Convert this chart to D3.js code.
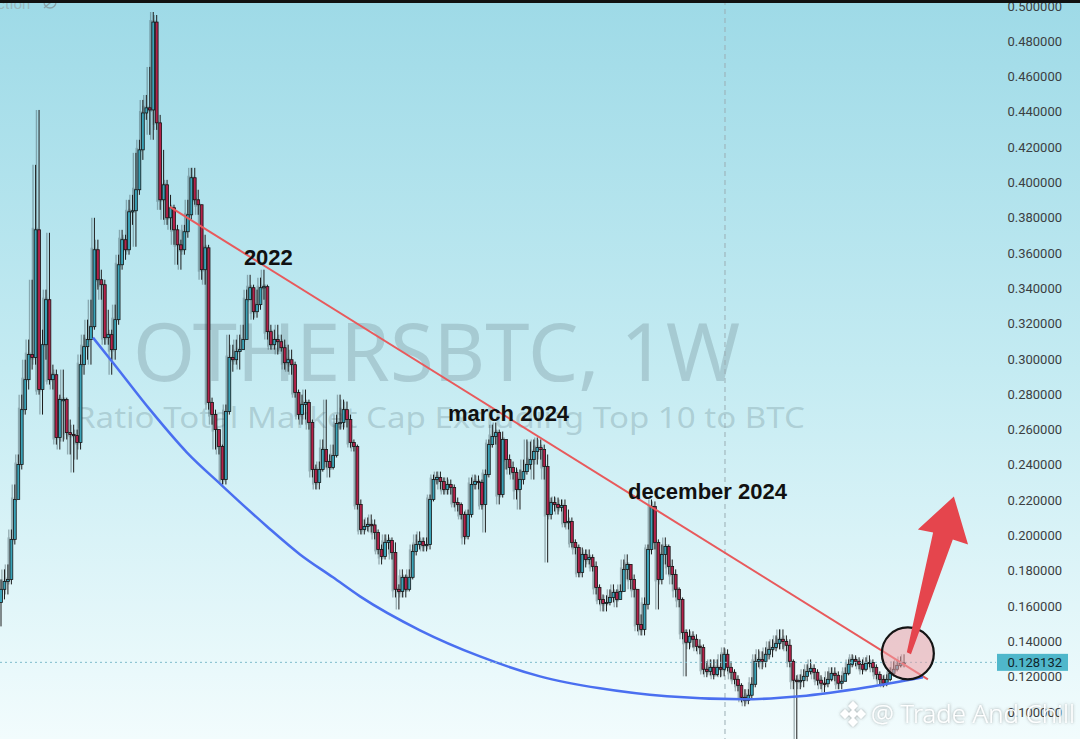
<!DOCTYPE html>
<html><head><meta charset="utf-8">
<script src="https://cdn.jsdelivr.net/npm/d3@7"></script>
<style>html,body{margin:0;padding:0;overflow:hidden;background:#fff}svg{display:block}</style>
</head><body><svg id="c" width="1080" height="739"></svg>
<script>
// ---------- DATA (weekly OTHERS/BTC candles) ----------
const firstOpen = 0.1621;
const close = [
0.1695,0.1740,0.1751,0.1978,0.2204,0.2402,0.2713,0.2883,0.3025,0.3008,
0.3732,0.2827,0.3081,0.3336,0.2883,0.2911,0.2555,0.2770,0.2770,0.2583,
0.2572,0.2566,0.2527,0.2968,0.3070,0.3110,0.3183,0.3619,0.3449,0.3421,
0.3121,0.3138,0.3053,0.3223,0.3534,0.3676,0.3619,0.3834,0.3840,0.3959,
0.4185,0.4394,0.4423,0.4411,0.4909,0.4338,0.3902,0.3987,0.3800,0.3857,
0.3732,0.3647,0.3619,0.3721,0.3817,0.4027,0.3902,0.3874,0.3506,0.3630,
0.2753,0.2685,0.2600,0.2504,0.2317,0.2702,0.3008,0.2996,0.3042,0.3053,
0.3110,0.3336,0.3404,0.3268,0.3308,0.3404,0.3410,0.3155,0.3081,0.3110,
0.3098,0.3064,0.2979,0.2996,0.2968,0.2810,0.2685,0.2742,0.2753,0.2640,
0.2374,0.2300,0.2374,0.2487,0.2419,0.2385,0.2453,0.2634,0.2640,0.2713,
0.2657,0.2527,0.2504,0.2176,0.2034,0.2051,0.2062,0.2060,0.2017,0.1921,
0.1881,0.1961,0.1972,0.1904,0.1695,0.1683,0.1763,0.1695,0.1763,0.1910,
0.1949,0.1966,0.1944,0.1949,0.2204,0.2317,0.2329,0.2306,0.2261,0.2289,
0.2272,0.2187,0.2176,0.2119,0.1995,0.2119,0.2289,0.2306,0.2300,0.2176,
0.2345,0.2515,0.2561,0.2583,0.2232,0.2544,0.2430,0.2385,0.2357,0.2261,
0.2317,0.2362,0.2402,0.2430,0.2476,0.2498,0.2487,0.2391,0.2119,0.2187,
0.2176,0.2159,0.2170,0.2074,0.2079,0.1961,0.1932,0.1791,0.1893,0.1864,
0.1876,0.1825,0.1706,0.1638,0.1615,0.1621,0.1649,0.1678,0.1638,0.1683,
0.1808,0.1836,0.1751,0.1695,0.1496,0.1468,0.1610,0.1921,0.2164,0.1961,
0.1751,0.1893,0.1938,0.1825,0.1779,0.1695,0.1638,0.1451,0.1395,0.1429,
0.1412,0.1372,0.1366,0.1242,0.1230,0.1253,0.1213,0.1253,0.1242,0.1327,
0.1253,0.1225,0.1185,0.1151,0.1083,0.1066,0.1095,0.1157,0.1287,0.1298,
0.1287,0.1327,0.1355,0.1366,0.1389,0.1412,0.1400,0.1378,0.1287,0.1180,
0.1174,0.1178,0.1202,0.1230,0.1247,0.1225,0.1180,0.1163,0.1160,0.1185,
0.1219,0.1208,0.1163,0.1174,0.1219,0.1270,0.1298,0.1287,0.1270,0.1242,
0.1276,0.1281,0.1253,0.1213,0.1185,0.1163,0.1185,0.1219,0.1242,0.1264,
0.1276,0.1281];
const high = [
0.1751,0.1808,0.1836,0.2034,0.2289,0.2459,0.2798,0.2996,0.3110,0.3449,
0.4100,0.4411,0.3166,0.3393,0.3715,0.2968,0.2940,0.2798,0.2940,0.2781,
0.2657,0.2628,0.2600,0.3025,0.3138,0.3223,0.3336,0.3800,0.3676,0.3506,
0.3449,0.3279,0.3166,0.3308,0.3591,0.3732,0.3704,0.3902,0.3930,0.4168,
0.4242,0.4468,0.4496,0.4655,0.4966,0.4949,0.4383,0.4185,0.4015,0.3930,
0.3874,0.3760,0.3676,0.3760,0.3902,0.4083,0.4083,0.3959,0.3874,0.3704,
0.3647,0.2781,0.2713,0.2600,0.2515,0.2742,0.3138,0.3081,0.3110,0.3138,
0.3194,0.3393,0.3477,0.3421,0.3393,0.3461,0.3506,0.3421,0.3194,0.3166,
0.3194,0.3138,0.3110,0.3081,0.3053,0.2985,0.2827,0.2798,0.2827,0.2770,
0.2657,0.2402,0.2419,0.2544,0.2770,0.2459,0.2515,0.2685,0.2798,0.2770,
0.2759,0.2685,0.2544,0.2515,0.2204,0.2091,0.2102,0.2119,0.2091,0.2034,
0.1949,0.2006,0.2006,0.1989,0.1961,0.1723,0.1808,0.1779,0.1808,0.1949,
0.2006,0.2023,0.1989,0.1989,0.2232,0.2345,0.2362,0.2362,0.2329,0.2329,
0.2317,0.2289,0.2215,0.2187,0.2136,0.2147,0.2329,0.2345,0.2340,0.2317,
0.2374,0.2544,0.2628,0.2640,0.2600,0.2589,0.2515,0.2459,0.2419,0.2385,
0.2374,0.2430,0.2544,0.2532,0.2544,0.2555,0.2544,0.2515,0.2459,0.2215,
0.2221,0.2215,0.2204,0.2204,0.2147,0.2102,0.1978,0.1949,0.1932,0.1921,
0.1921,0.1893,0.1853,0.1723,0.1666,0.1661,0.1695,0.1723,0.1695,0.1723,
0.1864,0.1893,0.1836,0.1779,0.1695,0.1553,0.1649,0.1949,0.2204,0.2193,
0.1978,0.1949,0.1989,0.1949,0.1864,0.1808,0.1706,0.1649,0.1468,0.1468,
0.1457,0.1440,0.1412,0.1383,0.1287,0.1298,0.1298,0.1298,0.1327,0.1366,
0.1355,0.1287,0.1242,0.1208,0.1163,0.1129,0.1129,0.1197,0.1327,0.1355,
0.1344,0.1366,0.1400,0.1412,0.1434,0.1468,0.1468,0.1434,0.1412,0.1298,
0.1208,0.1213,0.1242,0.1270,0.1298,0.1270,0.1242,0.1208,0.1197,0.1230,
0.1253,0.1253,0.1230,0.1208,0.1253,0.1298,0.1327,0.1321,0.1310,0.1298,
0.1310,0.1321,0.1298,0.1270,0.1230,0.1208,0.1213,0.1253,0.1287,0.1298,
0.1315,0.1327];
const low = [
0.1485,0.1638,0.1666,0.1723,0.1949,0.2232,0.2374,0.2685,0.2827,0.2940,
0.2968,0.2798,0.2685,0.2996,0.2855,0.2827,0.2515,0.2487,0.2532,0.2544,
0.2459,0.2357,0.2430,0.2487,0.2911,0.2996,0.2968,0.3166,0.3393,0.3336,
0.3081,0.3081,0.2911,0.2996,0.3194,0.3506,0.3562,0.3591,0.3760,0.3636,
0.3930,0.4128,0.4355,0.4270,0.4242,0.4298,0.3845,0.3789,0.3760,0.3732,
0.3647,0.3534,0.3506,0.3591,0.3687,0.3789,0.3874,0.3817,0.3449,0.3421,
0.2713,0.2628,0.2487,0.2459,0.2289,0.2289,0.2685,0.2928,0.2968,0.2940,
0.3053,0.3166,0.3336,0.3223,0.3234,0.3279,0.3336,0.3110,0.3053,0.3053,
0.3025,0.3042,0.2940,0.2928,0.2911,0.2781,0.2657,0.2628,0.2657,0.2600,
0.2329,0.2261,0.2261,0.2362,0.2385,0.2329,0.2374,0.2442,0.2600,0.2600,
0.2612,0.2498,0.2476,0.2147,0.2006,0.2006,0.2023,0.2017,0.1978,0.1893,
0.1836,0.1864,0.1921,0.1864,0.1649,0.1581,0.1649,0.1649,0.1683,0.1751,
0.1887,0.1921,0.1910,0.1910,0.1921,0.2193,0.2289,0.2261,0.2232,0.2232,
0.2232,0.2159,0.2136,0.2091,0.1949,0.1978,0.2102,0.2261,0.2261,0.2147,
0.2017,0.2329,0.2498,0.2515,0.2176,0.2215,0.2374,0.2345,0.2317,0.2204,
0.2147,0.2289,0.2345,0.2374,0.2317,0.2402,0.2430,0.2317,0.1847,0.2091,
0.2136,0.2119,0.2136,0.2046,0.2034,0.1932,0.1893,0.1763,0.1763,0.1819,
0.1836,0.1796,0.1666,0.1610,0.1570,0.1570,0.1604,0.1621,0.1593,0.1638,
0.1695,0.1751,0.1695,0.1649,0.1457,0.1434,0.1434,0.1581,0.1893,0.1921,
0.1581,0.1723,0.1836,0.1779,0.1723,0.1649,0.1593,0.1412,0.1202,0.1355,
0.1366,0.1344,0.1327,0.1213,0.1197,0.1208,0.1185,0.1202,0.1197,0.1202,
0.1230,0.1185,0.1157,0.1117,0.1055,0.1032,0.1044,0.1072,0.1140,0.1253,
0.1242,0.1253,0.1298,0.1310,0.1344,0.1355,0.1355,0.1344,0.1253,0.1129,
0.0732,0.1129,0.1140,0.1174,0.1213,0.1185,0.1151,0.1129,0.1112,0.1140,
0.1174,0.1174,0.1129,0.1129,0.1174,0.1208,0.1253,0.1259,0.1242,0.1213,
0.1230,0.1253,0.1225,0.1185,0.1157,0.1140,0.1146,0.1174,0.1202,0.1230,
0.1253,0.1253];
const yTicks = [0.50,0.48,0.46,0.44,0.42,0.40,0.38,0.36,0.34,0.32,0.30,0.28,0.26,0.24,0.22,0.20,0.18,0.16,0.14,0.12,0.10];
const lastPrice = 0.128132;
const dividerWeek = 209.25;
// trendlines (week index, price)
const resistanceLine = [[48.8,0.3862],[267.9,0.1185]];
const supportCurve = [[26.59,0.3121],[32.37,0.2979],[43.06,0.2713],[53.76,0.2470],[63.87,0.2283],[76.88,0.2051],[86.42,0.1893],[95.95,0.1763],[103.76,0.1655],[121.10,0.1463],[138.44,0.1315],[155.78,0.1202],[173.12,0.1134],[192.49,0.1089],[214.45,0.1072],[230.93,0.1089],[250.29,0.1140],[266.48,0.1197]];
const labels = [
  {text:"2022", w:70.2, p:0.3534},
  {text:"march 2024", w:129.2, p:0.2651},
  {text:"december 2024", w:181.2, p:0.2204}
];
const breakoutCircle = {w:262.1, p:0.1332};
const arrowShape = [[261.8,0.1338],[269.4,0.2017],[265.0,0.2034],[275.4,0.2221],[279.5,0.1949],[275.1,0.1978],[263.0,0.1327]];

// ---------- CHART ----------
const W = 1080, H = 739;
const svg = d3.select("#c");
const defs = svg.append("defs");
const g0 = defs.append("linearGradient").attr("id","bg").attr("x1",0).attr("y1",0).attr("x2",0).attr("y2",1);
g0.append("stop").attr("offset","0%").attr("stop-color","#9edae7");
g0.append("stop").attr("offset","50%").attr("stop-color","#c4ebf2");
g0.append("stop").attr("offset","100%").attr("stop-color","#f2fcfd");
defs.append("clipPath").attr("id","plot").append("rect").attr("x",0).attr("y",3).attr("width",996).attr("height",H-3);
const sh = defs.append("filter").attr("id","shadow").attr("x","-20%").attr("y","-40%").attr("width","140%").attr("height","180%");
sh.append("feDropShadow").attr("dx",0).attr("dy",0).attr("stdDeviation",1.6).attr("flood-color","#555").attr("flood-opacity",0.6);

svg.append("rect").attr("width",W).attr("height",H).attr("fill","url(#bg)");

const x = d3.scaleLinear().domain([0,287]).range([1,994]);
const y = d3.scaleLinear().domain([0.1,0.5]).range([712,6]);

// watermark titles
svg.append("text").attr("x",133).attr("y",381).attr("textLength",607).attr("lengthAdjust","spacingAndGlyphs")
  .attr("font-family","Noto Sans, Open Sans, sans-serif").attr("font-size",80).attr("fill","#6f8d96").attr("fill-opacity",0.33)
  .text("OTHERSBTC, 1W");
svg.append("text").attr("x",75).attr("y",428).attr("textLength",730).attr("lengthAdjust","spacingAndGlyphs")
  .attr("font-family","Noto Sans, Open Sans, sans-serif").attr("font-size",29).attr("fill","#6f8d96").attr("fill-opacity",0.33)
  .text("Ratio Total Market Cap Excluding Top 10 to BTC");

// top-left cropped header
svg.append("text").attr("x",-3).attr("y",9).attr("font-family","Roboto, sans-serif").attr("font-size",15).attr("fill","#9ab7be").text("ction");
svg.append("circle").attr("cx",50).attr("cy",2).attr("r",6).attr("fill","none").attr("stroke","#8aa3aa").attr("stroke-width",1.3);
svg.append("line").attr("x1",44).attr("y1",8).attr("x2",57).attr("y2",-3).attr("stroke","#8aa3aa").attr("stroke-width",1.3);

const plot = svg.append("g").attr("clip-path","url(#plot)");

// divider & price line
plot.append("line").attr("x1",x(dividerWeek)).attr("x2",x(dividerWeek)).attr("y1",0).attr("y2",H)
  .attr("stroke","#9aaeb3").attr("stroke-width",1).attr("stroke-dasharray","5,4");
svg.append("line").attr("x1",0).attr("x2",996).attr("y1",y(lastPrice)).attr("y2",y(lastPrice))
  .attr("stroke","#7fbccb").attr("stroke-width",1).attr("stroke-dasharray","2,3");

// candles
const candles = close.map((c,i)=>({i, o: i===0?firstOpen:close[i-1], c, h: high[i], l: low[i]}));
const ghost = plot.append("g").attr("opacity",0.42);
ghost.selectAll("line").data(candles).join("line")
  .attr("x1",d=>x(d.i)-2.6).attr("x2",d=>x(d.i)-2.6)
  .attr("y1",d=>y(d.h)).attr("y2",d=>y(d.l)).attr("stroke","#40545b").attr("stroke-width",1.4);
ghost.selectAll("rect").data(candles).join("rect")
  .attr("x",d=>x(d.i)-3.9).attr("width",2.6)
  .attr("y",d=>y(Math.max(d.o,d.c))-2).attr("height",d=>Math.abs(y(d.o)-y(d.c))+4)
  .attr("fill","#3c5158");

const cg = plot.append("g");
cg.selectAll("line").data(candles).join("line")
  .attr("x1",d=>x(d.i)).attr("x2",d=>x(d.i))
  .attr("y1",d=>y(d.h)).attr("y2",d=>y(d.l)).attr("stroke","#1c1c1c").attr("stroke-width",1);
cg.selectAll("rect").data(candles).join("rect")
  .attr("x",d=>x(d.i)-1.4).attr("width",2.8)
  .attr("y",d=>y(Math.max(d.o,d.c))).attr("height",d=>Math.max(1.2,Math.abs(y(d.o)-y(d.c))))
  .attr("fill",d=>d.c>=d.o?"#3aa3b8":"#b3224a").attr("stroke","#151515").attr("stroke-width",0.8);

// trendlines
plot.append("path").datum(resistanceLine).attr("d",d3.line().x(d=>x(d[0])).y(d=>y(d[1])))
  .attr("fill","none").attr("stroke","#e85a5c").attr("stroke-width",2);
plot.append("path").datum(supportCurve).attr("d",d3.line().x(d=>x(d[0])).y(d=>y(d[1])).curve(d3.curveMonotoneX))
  .attr("fill","none").attr("stroke","#4a6ff0").attr("stroke-width",2.5);

// labels
svg.selectAll("text.lab").data(labels).join("text").attr("class","lab")
  .attr("x",d=>x(d.w)).attr("y",d=>y(d.p)).attr("font-family","Liberation Sans, Arial, sans-serif")
  .attr("font-weight","bold").attr("font-size",22).attr("fill","#111").text(d=>d.text);

// breakout circle & arrow
svg.append("circle").attr("cx",x(breakoutCircle.w)).attr("cy",y(breakoutCircle.p)).attr("r",26)
  .attr("fill","rgba(238,160,165,0.55)").attr("stroke","#141414").attr("stroke-width",2.2);
svg.append("path").attr("d",d3.line().x(d=>x(d[0])).y(d=>y(d[1]))(arrowShape)+"Z")
  .attr("fill","#e5454d");

// axis labels
svg.selectAll("text.tick").data(yTicks).join("text").attr("class","tick")
  .attr("x",1062).attr("y",d=>y(d)+4.5).attr("text-anchor","end")
  .attr("font-family","Roboto, sans-serif").attr("font-size",13).attr("fill","#3b3f42")
  .text(d=>d.toFixed(6));
// last price tag
svg.append("rect").attr("x",997).attr("y",y(lastPrice)-8.5).attr("width",71).attr("height",17).attr("fill","#4fb7cb");
svg.append("text").attr("x",1062).attr("y",y(lastPrice)+4.5).attr("text-anchor","end")
  .attr("font-family","Roboto, sans-serif").attr("font-size",13).attr("fill","#10262c").text(lastPrice.toFixed(6));

// top black strip
svg.append("rect").attr("x",0).attr("y",0).attr("width",W).attr("height",3).attr("fill","#111");

// bottom-right watermark
const wm = svg.append("g").attr("filter","url(#shadow)");
const cx0 = 853, cy0 = 714;
[[0,-8],[-8,0],[8,0],[0,8]].forEach(([dx,dy])=>{
  wm.append("rect").attr("x",cx0+dx-3.5).attr("y",cy0+dy-3.5).attr("width",7).attr("height",7)
    .attr("transform",`rotate(45 ${cx0+dx} ${cy0+dy})`).attr("fill","#fff");
});
wm.append("rect").attr("x",cx0-3.5).attr("y",cy0-3.5).attr("width",7).attr("height",7)
  .attr("transform",`rotate(45 ${cx0} ${cy0})`).attr("fill","#fff");
wm.append("text").attr("x",871).attr("y",723).attr("textLength",204).attr("lengthAdjust","spacingAndGlyphs")
  .attr("font-family","Noto Sans, Open Sans, sans-serif").attr("font-weight",300).attr("font-size",25).attr("fill","#fff")
  .text("@ Trade And Chill");
</script></body></html>
